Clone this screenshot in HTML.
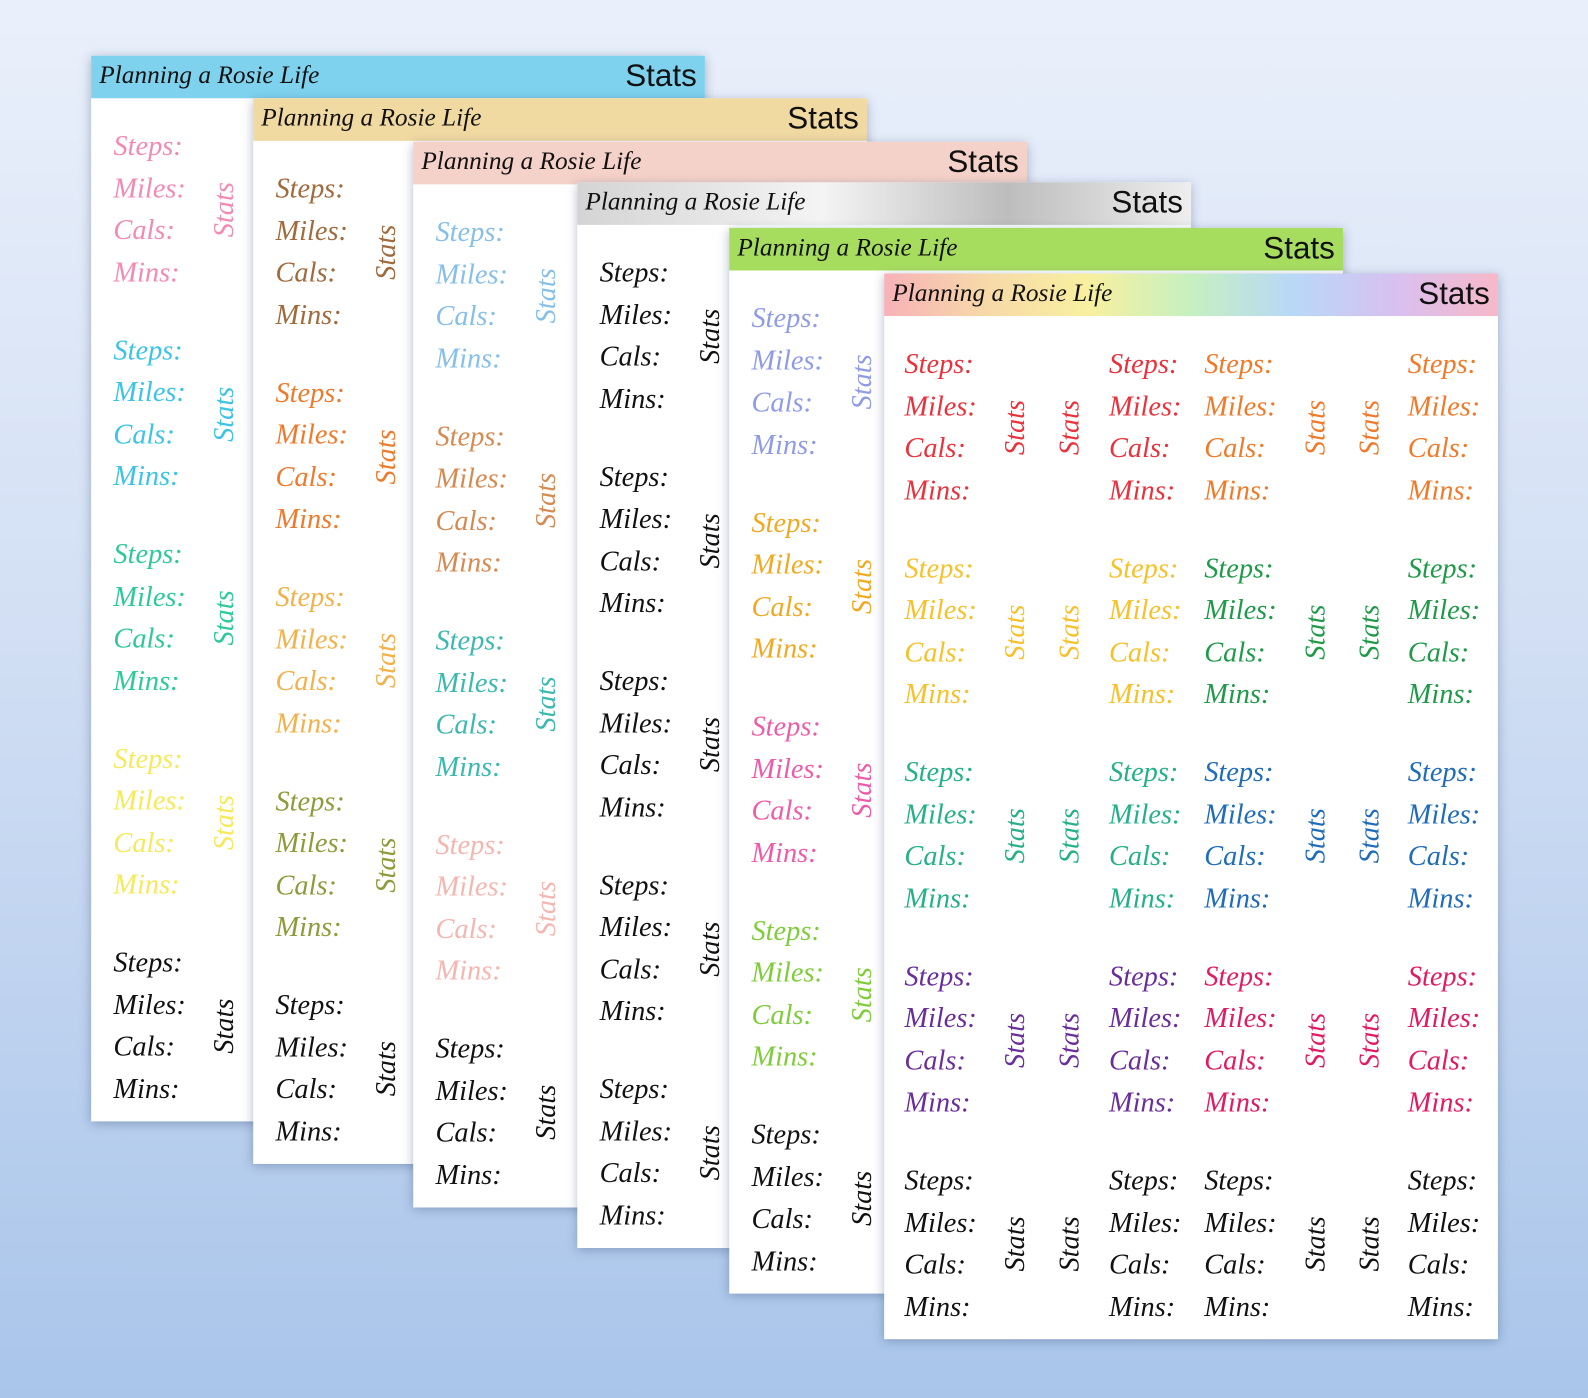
<!DOCTYPE html>
<html><head><meta charset="utf-8">
<style>
html,body{margin:0;padding:0}
body{width:1588px;height:1398px;position:relative;overflow:hidden;
background:linear-gradient(180deg,#eaf0fb 0%,#d2dff4 45%,#a9c5ea 100%);font-family:"Liberation Serif",serif}
#wrap{position:absolute;left:0;top:0;width:1568px;height:1380px;transform-origin:0 0;transform:scale(1.0128,1.013)}
.sheet{position:absolute;width:606px;height:1052px;background:#fff;box-shadow:0 2px 10px rgba(40,60,100,.35)}
.hdr{position:absolute;left:0;top:0;width:100%;height:42px}
.hdr .t{position:absolute;left:8px;top:6px;font-style:italic;font-size:25px;color:#111;font-family:"Liberation Serif",serif}
.hdr .s{position:absolute;right:8px;top:2px;font-size:31px;color:#111;font-family:"Liberation Sans",sans-serif}
.lb{position:absolute;font-style:italic;font-size:28px;line-height:30px;white-space:nowrap}
.st{position:absolute;font-style:italic;font-size:28px;line-height:30px;transform:translate(-50%,-50%) rotate(-90deg);white-space:nowrap}
</style></head><body>
<div id="wrap"></div>
<script>
const sheets=[
 {x:90,y:55,hdr:'#7fd2ee',cols:[['#f28ab4','#3cc3e6','#2ec99a','#f6e95a','#111']]},
 {x:250,y:97,hdr:'#f1d9a2',cols:[['#a06a3c','#ee7a2c','#f2b14a','#8f9a3a','#111']]},
 {x:408,y:140,hdr:'#f5d2c9',cols:[['#86bfe8','#d58a52','#3bb9b0','#f5b6b0','#111']]},
 {x:570,y:180,hdr:'linear-gradient(90deg,#d4d4d4,#f4f4f4 40%,#bdbdbd 70%,#eee)',cols:[['#111','#111','#111','#111','#111']]},
 {x:720,y:225,hdr:'#a7dd5f',cols:[['#8f9be6','#f2a922','#ec5ca8','#7fcc3a','#111']]},
 {x:873,y:270,hdr:'linear-gradient(90deg,#f7b2b8,#f7d9a8,#f8f0a0,#c6f0c0,#b8d8f8,#d8c0f0,#f8b8c8)',full:true,
  left:['#e8323c','#f6c12a','#25b08a','#6a2e9a','#111'],right:['#f07a2a','#1f9a48','#1f6cb8','#e01a63','#111']}
];
const words=['Steps:','Miles:','Cals:','Mins:'];
const wrap=document.getElementById('wrap');
function addLabels(sh,dx,by,c){
 words.forEach((w,i)=>{const d=document.createElement('div');d.className='lb';
  
  
  d.style.left=dx+'px';d.style.top=(by-15+i*41.5)+'px';d.style.color=c;d.textContent=w;sh.appendChild(d);});
}
function addStats(sh,cx,by,c){const d=document.createElement('div');d.className='st';
 
 
 d.style.left=cx+'px';d.style.top=(by+62)+'px';d.style.color=c;d.textContent='Stats';sh.appendChild(d);}
sheets.forEach((s,k)=>{
 const sh=document.createElement('div');sh.className='sheet';
 
 
 sh.style.left=s.x+'px';sh.style.top=s.y+'px';
 const h=document.createElement('div');h.className='hdr';h.style.background=s.hdr;
 
 
 h.innerHTML='<span class="t">Planning a Rosie Life</span><span class="s">Stats</span>';
 sh.appendChild(h);
 for(let r=0;r<5;r++){const by=90+r*201.5;
  if(s.full){addLabels(sh,20,by,s.left[r]);addStats(sh,130,by,s.left[r]);addStats(sh,184,by,s.left[r]);addLabels(sh,222,by,s.left[r]);
   addLabels(sh,316,by,s.right[r]);addStats(sh,427,by,s.right[r]);addStats(sh,480,by,s.right[r]);addLabels(sh,517,by,s.right[r]);}
  else{addLabels(sh,22,by,s.cols[0][r]);addStats(sh,132,by,s.cols[0][r]);}
 }
 wrap.appendChild(sh);
});
</script>
</body></html>
